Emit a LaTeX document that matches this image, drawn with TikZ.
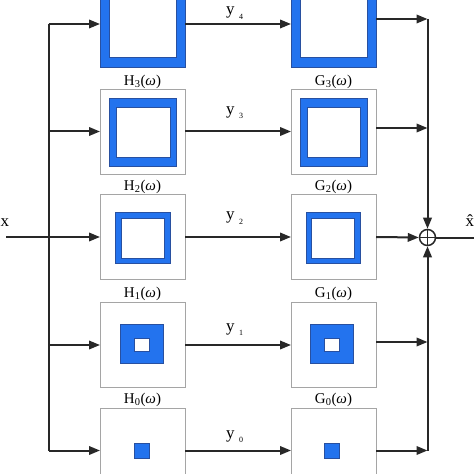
\documentclass[tikz,border=0pt]{standalone}
\usepackage{fontspec}
\setmainfont{Liberation Serif}
\usetikzlibrary{arrows.meta,calc}
\definecolor{bl}{RGB}{35,115,238}
\definecolor{bld}{RGB}{40,80,160}
\definecolor{ln}{RGB}{40,40,40}
\definecolor{gr}{RGB}{165,165,165}
\tikzset{
 cell/.style={draw=gr, line width=0.9bp, fill=white, minimum width=85bp, minimum height=85bp, inner sep=0pt, outer sep=0pt},
 blu/.style={fill=bl, draw=bld, line width=0.5bp, inner sep=0pt, outer sep=0pt},
 hole/.style={fill=white, draw=bld, line width=0.5bp, inner sep=0pt, outer sep=0pt},
 wire/.style={draw=ln, line width=2bp},
 arr/.style={wire, -{Triangle[length=11bp,width=8.5bp]}},
 flab/.style={font=\fontsize{15}{15}\selectfont, anchor=base, inner sep=0pt},
 ylab/.style={font=\fontsize{17}{17}\selectfont, anchor=base west, inner sep=0pt},
 sumnode/.style={draw=ln, line width=1.5bp, circle, minimum size=16bp, inner sep=0pt, fill=white},
}
\newcommand{\yl}[1]{y\hspace{4.5bp}\raisebox{-4.5bp}{\fontsize{8}{8}\selectfont #1}}
\newcommand{\om}{\textit{ω}}
\begin{document}
\begin{tikzpicture}[x=1bp,y=-1bp]
\useasboundingbox (0,0) rectangle (474,474);
\clip (0,0) rectangle (474,474);
% ---- H column cells
\node[cell, minimum height=86bp] (h4) at (142.5,24) {};
\node[blu, minimum width=85bp, minimum height=86bp] (h4b) at (142.5,24) {};
\node[hole, minimum width=67bp, minimum height=67bp] (h4w) at (142.5,23.5) {};
\node[cell] (h3) at (142.5,131.5) {};
\node[blu, minimum width=67bp, minimum height=68bp] (h3b) at (142.5,132) {};
\node[hole, minimum width=53.5bp, minimum height=50bp] (h3w) at (143,132) {};
\node[cell] (h2) at (142.5,237) {};
\node[blu, minimum width=55bp, minimum height=51bp] (h2b) at (142.5,237.5) {};
\node[hole, minimum width=43bp, minimum height=40bp] (h2w) at (142.5,238) {};
\node[cell] (h1) at (142.5,345) {};
\node[blu, minimum width=43bp, minimum height=39bp] (h1b) at (141.5,343.5) {};
\node[hole, minimum width=15bp, minimum height=13bp] (h1w) at (141.5,344.5) {};
\node[cell] (h0) at (142.5,450.5) {};
\node[blu, minimum width=15bp, minimum height=15bp] (h0b) at (141.5,450.5) {};
% ---- G column cells
\node[cell, minimum height=86bp] (g4) at (333.5,24) {};
\node[blu, minimum width=85bp, minimum height=86bp] (g4b) at (333.5,24) {};
\node[hole, minimum width=67bp, minimum height=67bp] (g4w) at (333.5,23.5) {};
\node[cell] (g3) at (333.5,131.5) {};
\node[blu, minimum width=67bp, minimum height=68bp] (g3b) at (333.5,132) {};
\node[hole, minimum width=53.5bp, minimum height=50bp] (g3w) at (333.5,132) {};
\node[cell] (g2) at (333.5,237) {};
\node[blu, minimum width=54bp, minimum height=51bp] (g2b) at (333,237.5) {};
\node[hole, minimum width=43bp, minimum height=40bp] (g2w) at (333,238) {};
\node[cell] (g1) at (333.5,345) {};
\node[blu, minimum width=43bp, minimum height=39bp] (g1b) at (331.5,343.5) {};
\node[hole, minimum width=15bp, minimum height=13bp] (g1w) at (331.8,344.5) {};
\node[cell] (g0) at (333.5,450.5) {};
\node[blu, minimum width=15bp, minimum height=15bp] (g0b) at (331.5,450.5) {};
% ---- filter labels
\node[flab] (lh3) at ($(h3.north)+(0,-3.5)$) {H\textsubscript{3}(\om)};
\node[flab] (lh2) at ($(h2.north)+(0,-4)$) {H\textsubscript{2}(\om)};
\node[flab] (lh1) at ($(h1.north)+(0,-5)$) {H\textsubscript{1}(\om)};
\node[flab] (lh0) at ($(h0.north)+(0,-4.5)$) {H\textsubscript{0}(\om)};
\node[flab] (lg3) at ($(g3.north)+(0,-3.5)$) {G\textsubscript{3}(\om)};
\node[flab] (lg2) at ($(g2.north)+(0,-4)$) {G\textsubscript{2}(\om)};
\node[flab] (lg1) at ($(g1.north)+(0,-5)$) {G\textsubscript{1}(\om)};
\node[flab] (lg0) at ($(g0.north)+(0,-4.5)$) {G\textsubscript{0}(\om)};
% ---- signal labels
\node[ylab] (ly4) at (226,14.8) {\yl{4}};
\node[ylab] (ly3) at (226,114.5) {\yl{3}};
\node[ylab] (ly2) at (226,220) {\yl{2}};
\node[ylab] (ly1) at (226,331) {\yl{1}};
\node[ylab] (ly0) at (226,438) {\yl{0}};
\node[ylab] (lx) at (0.5,227) {x};
\node[ylab] (lxh) at (465.5,227) {\^{x}};
% ---- input distribution
\coordinate (xin) at (6,237);
\coordinate (s4) at (48.5,24);
\coordinate (s3) at (48.5,131.5);
\coordinate (s2) at (48.5,237);
\coordinate (s1) at (48.5,345);
\coordinate (s0) at (48.5,450.5);
\draw[wire] (s4) -- (s0);
\draw[arr] (s4) -- (h4.west);
\draw[arr] (s3) -- (h3.west);
\draw[arr] (xin) -- (h2.west);
\draw[arr] (s1) -- (h1.west);
\draw[arr] (s0) -- (h0.west);
% ---- H to G
\draw[arr] (h4.east) -- (g4.west);
\draw[arr] (h3.east) -- (g3.west);
\draw[arr] (h2.east) -- (g2.west);
\draw[arr] (h1.east) -- (g1.west);
\draw[arr] (h0.east) -- (g0.west);
% ---- summation
\node[sumnode] (sum) at (427.5,237.5) {};
\draw[draw=ln, line width=1.2bp] (sum.north) -- (sum.south) (sum.west) -- (sum.east);
\coordinate (r4) at (427.5,19);
\coordinate (r3) at (427.5,128);
\coordinate (r1) at (427.5,342);
\coordinate (r0) at (427.5,450.5);
\coordinate (xout) at (474,237.5);
\draw[arr] (r4) -- (sum.north);
\draw[arr] (r0) -- (sum.south);
\draw[arr] (g4.east |- r4) -- (r4);
\draw[arr] (g3.east |- r3) -- (r3);
\draw[arr] (g2.east) -- (sum.west);
\draw[arr] (g1.east |- r1) -- (r1);
\draw[arr] (g0.east |- r0) -- (r0);
\draw[wire] (sum.east) -- (xout);
\end{tikzpicture}
\end{document}
